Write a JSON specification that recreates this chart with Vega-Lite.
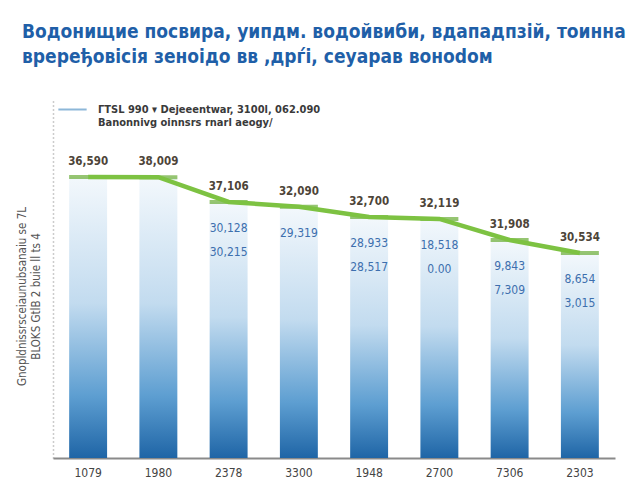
{
  "$schema": "https://vega.github.io/schema/vega-lite/v6.json",
  "width": 562,
  "height": 358,
  "autosize": {"type": "none"},
  "padding": {"left": 53, "top": 100, "right": 25, "bottom": 22},
  "background": "white",
  "config": {"view": {"stroke": null}, "font": "DejaVu Sans Condensed"},
  "title": {
    "text": ["Водонищие посвира, уипдм. водойвиби, вдападпзій, тоинна", "вреређовісія зеноідо вв ,дрѓі,   сеуаpaв воноdом"],
    "anchor": "start",
    "frame": "group",
    "dx": -31,
    "offset": 27,
    "fontSize": 19,
    "fontWeight": "bold",
    "color": "#1f5fa8",
    "lineHeight": 25,
    "font": "DejaVu Sans Condensed"
  },
  "data": {
    "values": [
      {"cat": "1079", "value": 36590, "lab": "36,590", "s1": "", "s2": ""},
      {"cat": "1980", "value": 36560, "lab": "38,009", "s1": "", "s2": ""},
      {"cat": "2378", "value": 33335, "lab": "37,106", "s1": "30,128", "s2": "30,215"},
      {"cat": "3300", "value": 32690, "lab": "32,090", "s1": "29,319", "s2": ""},
      {"cat": "1948", "value": 31370, "lab": "32,700", "s1": "28,933", "s2": "28,517"},
      {"cat": "2700", "value": 31119, "lab": "32,119", "s1": "18,518", "s2": "0.00"},
      {"cat": "7306", "value": 28376, "lab": "31,908", "s1": "9,843", "s2": "7,309"},
      {"cat": "2303", "value": 26684, "lab": "30,534", "s1": "8,654", "s2": "3,015"}
    ]
  },
  "encoding": {
    "x": {
      "field": "cat",
      "type": "nominal",
      "sort": null,
      "scale": {"paddingInner": 0.46, "paddingOuter": 0.23},
      "axis": {
        "title": null,
        "labelAngle": 0,
        "ticks": false,
        "domainColor": "#8a8a8a",
        "domainWidth": 2,
        "labelFontSize": 12,
        "labelColor": "#444",
        "labelPadding": 9
      }
    },
    "y": {
      "field": "value",
      "type": "quantitative",
      "scale": {"domain": [0, 46600]},
      "axis": {
        "domain": true,
        "domainColor": "#9a9a9a",
        "domainDash": [1, 3],
        "domainWidth": 1.5,
        "ticks": false,
        "labels": false,
        "grid": false,
        "title": ["Gnopldnissrsceiaunubsanaiu  se  7L", "BLOKS  GtlB  2  buie  ll  ts  4"],
        "titleFontSize": 11.5,
        "titleColor": "#555",
        "titleFontWeight": "normal",
        "titlePadding": 12,
        "titleY": 196
      }
    }
  },
  "layer": [
    {
      "mark": {
        "type": "bar",
        "color": {
          "gradient": "linear",
          "x1": 0, "y1": 0, "x2": 0, "y2": 1,
          "stops": [
            {"offset": 0, "color": "#f3f8fc"},
            {"offset": 0.45, "color": "#c2dbef"},
            {"offset": 0.78, "color": "#5d9ed1"},
            {"offset": 1, "color": "#1f65a6"}
          ]
        }
      }
    },
    {
      "mark": {"type": "tick", "size": 38, "thickness": 4, "color": "#6aad36"}
    },
    {
      "mark": {"type": "line", "strokeWidth": 2},
      "encoding": {
        "color": {
          "datum": "ГТЅL 990 ▾ Dejeeentwar,  3100l, 062.090|Banonnivg oinnsrs rnarl aeogy/",
          "scale": {"range": ["#8db7d8"]},
          "legend": {
            "orient": "none",
            "legendX": 4,
            "legendY": -6,
            "title": null,
            "symbolType": "stroke",
            "symbolStrokeWidth": 2,
            "symbolSize": 800,
            "labelExpr": "split(datum.label, '|')",
            "labelFontSize": 11,
            "labelFontWeight": "bold",
            "labelColor": "#3a3a3a",
            "labelLimit": 0,
            "labelOffset": 10
          }
        }
      }
    },
    {
      "mark": {"type": "line", "strokeWidth": 4.5, "color": "#7dc242"}
    },
    {
      "mark": {"type": "text", "dy": -15, "fontSize": 11.5, "fontWeight": "bold", "color": "#4d4438"},
      "encoding": {"text": {"field": "lab"}}
    },
    {
      "mark": {"type": "text", "dy": 26, "fontSize": 12, "color": "#3d6fae"},
      "encoding": {"text": {"field": "s1"}}
    },
    {
      "mark": {"type": "text", "dy": 50, "fontSize": 12, "color": "#3d6fae"},
      "encoding": {"text": {"field": "s2"}}
    }
  ]
}
